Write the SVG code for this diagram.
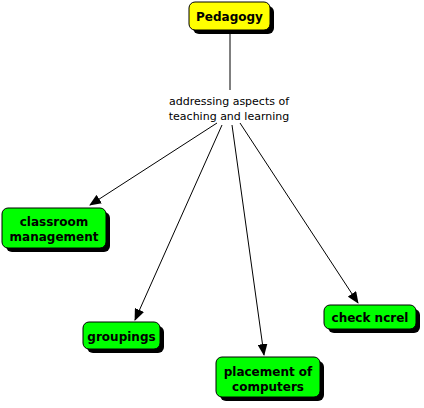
<svg xmlns="http://www.w3.org/2000/svg" width="424" height="408" viewBox="0 0 424 408">
<style>
.sh{fill:#000}
.bx{stroke:#000;stroke-width:1}
.y{fill:#ffff00}
.g{fill:#00ff00}
.t{font-family:"DejaVu Sans",Verdana,sans-serif;font-size:12px;font-weight:bold;text-anchor:middle;fill:#000}
.l{font-family:"DejaVu Sans",Verdana,sans-serif;font-size:11px;text-anchor:middle;fill:#000}
.c{stroke:#000;stroke-width:1;fill:none}
</style>
<defs>
<marker id="ah" markerWidth="12" markerHeight="10" refX="11" refY="5" orient="auto" markerUnits="userSpaceOnUse">
<path d="M0,0 L12,5 L0,10 Z" fill="#000"/>
</marker>
</defs>
<rect width="424" height="408" fill="#fff"/>
<g id="connectors">
<line class="c" x1="230" y1="32" x2="230" y2="90"/>
<line class="c" x1="217" y1="123" x2="90" y2="205" marker-end="url(#ah)"/>
<line class="c" x1="222" y1="125" x2="135" y2="320" marker-end="url(#ah)"/>
<line class="c" x1="232" y1="125" x2="264" y2="355" marker-end="url(#ah)"/>
<line class="c" x1="240" y1="123" x2="358" y2="303" marker-end="url(#ah)"/>
</g>
<g id="label">
<text class="l" x="229" y="105">addressing aspects of</text>
<text class="l" x="229" y="120">teaching and learning</text>
</g>
<g id="pedagogy">
<rect class="sh" x="193" y="6" width="81" height="28" rx="6"/>
<rect class="bx y" x="189" y="2" width="81" height="28" rx="6"/>
<text class="t" x="229.5" y="21">Pedagogy</text>
</g>
<g id="classroom">
<rect class="sh" x="6" y="212" width="104" height="40" rx="6"/>
<rect class="bx g" x="2" y="208" width="104" height="40" rx="6"/>
<text class="t" x="54" y="226">classroom</text>
<text class="t" x="54" y="241">management</text>
</g>
<g id="groupings">
<rect class="sh" x="87" y="326" width="77" height="27" rx="6"/>
<rect class="bx g" x="83" y="322" width="77" height="27" rx="6"/>
<text class="t" x="121.5" y="340.5">groupings</text>
</g>
<g id="placement">
<rect class="sh" x="220" y="361" width="104" height="40" rx="6"/>
<rect class="bx g" x="216" y="357" width="104" height="40" rx="6"/>
<text class="t" x="268" y="376">placement of</text>
<text class="t" x="268" y="391">computers</text>
</g>
<g id="ncrel">
<rect class="sh" x="328" y="309" width="92" height="24" rx="6"/>
<rect class="bx g" x="324" y="305" width="92" height="24" rx="6"/>
<text class="t" x="370" y="321.5">check ncrel</text>
</g>
</svg>
